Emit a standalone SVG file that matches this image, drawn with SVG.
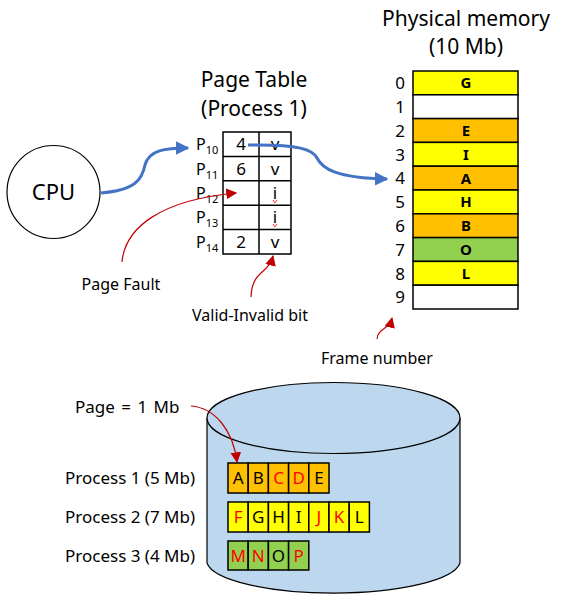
<svg xmlns="http://www.w3.org/2000/svg" width="565" height="607" viewBox="0 0 565 607">
<defs>
<style>
text{font-family:"Noto Sans","Open Sans","DejaVu Sans",sans-serif;fill:#000}
.t{font-size:16px}
.p{font-size:17px}
.h{font-size:21px}
.c{text-anchor:middle}
.cell{stroke:#000;stroke-width:1.5}
.pt{fill:#fff;stroke:#000;stroke-width:1.5}
.mb{font-size:15px;font-weight:bold;text-anchor:middle}
.y{fill:#FFFF00}
.o{fill:#FFC000}
.g{fill:#92D050}
.w{fill:#fff}
.r{fill:#FF0000}
.blue{fill:none;stroke:#4472C4;stroke-width:3}
.red{fill:none;stroke:#C00000;stroke-width:1.2}
</style>
<marker id="ab" viewBox="0 0 10 10" refX="9" refY="5" markerWidth="4.5" markerHeight="4.5" orient="auto" markerUnits="strokeWidth"><path d="M0,0L10,5L0,10z" fill="#4472C4"/></marker>
<marker id="ar" viewBox="0 0 10 10" refX="9" refY="5" markerWidth="9" markerHeight="9" orient="auto" markerUnits="strokeWidth"><path d="M0,0L10,5L0,10z" fill="#C00000"/></marker>
</defs>

<g id="cpu">
<circle cx="53.5" cy="192" r="46.5" fill="#fff" stroke="#000" stroke-width="1.2"/>
<text class="c" x="53.5" y="200" font-size="22">CPU</text>
</g>

<g id="page-table">
<text class="h c" x="254" y="87">Page Table</text>
<text class="h c" x="254" y="116">(Process 1)</text>
<rect class="pt" x="223" y="132" width="68" height="122"/>
<line class="cell" x1="259" y1="132" x2="259" y2="254"/>
<line class="cell" x1="223" y1="156.4" x2="291" y2="156.4"/>
<line class="cell" x1="223" y1="180.8" x2="291" y2="180.8"/>
<line class="cell" x1="223" y1="205.2" x2="291" y2="205.2"/>
<line class="cell" x1="223" y1="229.6" x2="291" y2="229.6"/>
<g class="t">
<text x="196" y="150">P<tspan font-size="11" dy="4">10</tspan></text>
<text x="196" y="175">P<tspan font-size="11" dy="4">11</tspan></text>
<text x="196" y="199">P<tspan font-size="11" dy="4">12</tspan></text>
<text x="196" y="223">P<tspan font-size="11" dy="4">13</tspan></text>
<text x="196" y="248">P<tspan font-size="11" dy="4">14</tspan></text>
<text class="c p" x="241" y="150">4</text>
<text class="c p" x="241" y="175">6</text>
<text class="c p" x="241" y="248">2</text>
<text class="c p" x="275" y="150">v</text>
<text class="c p" x="275" y="175">v</text>
<text class="c p" x="275" y="199">i</text>
<text class="c p" x="275" y="223">i</text>
<text class="c p" x="275" y="248">v</text>
</g>
<path d="M273,200 L275,203 L277,200 M273,224 L275,227 L277,224" fill="none" stroke="#FF0000" stroke-width="0.8"/>
</g>

<g id="physical-memory">
<text class="h c" x="466" y="26">Physical memory</text>
<text class="h c" x="466" y="54">(10 Mb)</text>
<g class="cell">
<rect class="y" x="413" y="71" width="105" height="23.8"/>
<rect class="w" x="413" y="94.8" width="105" height="23.8"/>
<rect class="o" x="413" y="118.6" width="105" height="23.8"/>
<rect class="y" x="413" y="142.4" width="105" height="23.8"/>
<rect class="o" x="413" y="166.2" width="105" height="23.8"/>
<rect class="y" x="413" y="190" width="105" height="23.8"/>
<rect class="o" x="413" y="213.8" width="105" height="23.8"/>
<rect class="g" x="413" y="237.6" width="105" height="23.8"/>
<rect class="y" x="413" y="261.4" width="105" height="23.8"/>
<rect class="w" x="413" y="285.2" width="105" height="23.8"/>
</g>
<g class="p c">
<text x="400" y="89">0</text>
<text x="400" y="113">1</text>
<text x="400" y="137">2</text>
<text x="400" y="161">3</text>
<text x="400" y="184">4</text>
<text x="400" y="208">5</text>
<text x="400" y="232">6</text>
<text x="400" y="256">7</text>
<text x="400" y="280">8</text>
<text x="400" y="303">9</text>
</g>
<text class="mb" x="466" y="88">G</text>
<text class="mb" x="466" y="136">E</text>
<text class="mb" x="466" y="160">I</text>
<text class="mb" x="466" y="184">A</text>
<text class="mb" x="466" y="207">H</text>
<text class="mb" x="466" y="231">B</text>
<text class="mb" x="466" y="255">O</text>
<text class="mb" x="466" y="279">L</text>
</g>

<g id="disk">
<path d="M207,418 L207,563 A127,33 0 0 0 460,563 L460,418" fill="#BDD7EE" stroke="#000" stroke-width="1.2"/>
<ellipse cx="333.5" cy="418" rx="126.5" ry="35.5" fill="#BDD7EE" stroke="#000" stroke-width="1.2"/>
</g>

<g id="process-1">
<text class="p" x="65" y="484">Process 1 (5 Mb)</text>
<g class="cell o">
<rect x="228" y="463" width="20.2" height="30"/>
<rect x="248.2" y="463" width="20.2" height="30"/>
<rect x="268.4" y="463" width="20.2" height="30"/>
<rect x="288.6" y="463" width="20.2" height="30"/>
<rect x="308.8" y="463" width="20.2" height="30"/>
</g>
<g class="p c">
<text x="238.1" y="484">A</text>
<text x="258.3" y="484">B</text>
<text class="r" x="278.5" y="484">C</text>
<text class="r" x="298.7" y="484">D</text>
<text x="318.9" y="484">E</text>
</g>
</g>

<g id="process-2">
<text class="p" x="65" y="523">Process 2 (7 Mb)</text>
<g class="cell y">
<rect x="228" y="502" width="20.2" height="30"/>
<rect x="248.2" y="502" width="20.2" height="30"/>
<rect x="268.4" y="502" width="20.2" height="30"/>
<rect x="288.6" y="502" width="20.2" height="30"/>
<rect x="308.8" y="502" width="20.2" height="30"/>
<rect x="329" y="502" width="20.2" height="30"/>
<rect x="349.2" y="502" width="20.2" height="30"/>
</g>
<g class="p c">
<text class="r" x="238.1" y="523">F</text>
<text x="258.3" y="523">G</text>
<text x="278.5" y="523">H</text>
<text x="298.7" y="523">I</text>
<text class="r" x="318.9" y="523">J</text>
<text class="r" x="339.1" y="523">K</text>
<text x="359.3" y="523">L</text>
</g>
</g>

<g id="process-3">
<text class="p" x="65" y="562">Process 3 (4 Mb)</text>
<g class="cell g">
<rect x="228" y="541" width="20.2" height="29"/>
<rect x="248.2" y="541" width="20.2" height="29"/>
<rect x="268.4" y="541" width="20.2" height="29"/>
<rect x="288.6" y="541" width="20.2" height="29"/>
</g>
<g class="p c">
<text class="r" x="238.1" y="562">M</text>
<text class="r" x="258.3" y="562">N</text>
<text x="278.5" y="562">O</text>
<text class="r" x="298.7" y="562">P</text>
</g>
</g>

<g id="labels">
<text class="t c" x="121" y="290">Page Fault</text>
<text class="t c" x="250" y="321">Valid-Invalid bit</text>
<text class="t c" x="377" y="364">Frame number</text>
<text class="p" x="75" y="413" word-spacing="2">Page = 1 Mb</text>
</g>

<g id="connectors">
<path class="blue" d="M101,193 C135,190 142,180 145,165 C149,150 165,148 188,148" marker-end="url(#ab)"/>
<path class="blue" d="M248,145 C300,144 313,150 317,158 C322,168 335,178 387,179" marker-end="url(#ab)"/>
<path class="red" d="M122,262 C125,228 160,200 236,193" marker-end="url(#ar)"/>
<path class="red" d="M251,297 C252,270 268,275 273,256" marker-end="url(#ar)"/>
<path class="red" d="M377,339 C378,328 389,330 392,318" marker-end="url(#ar)"/>
<path class="red" d="M191,406 C215,408 233,430 237,462" marker-end="url(#ar)"/>
</g>
</svg>
